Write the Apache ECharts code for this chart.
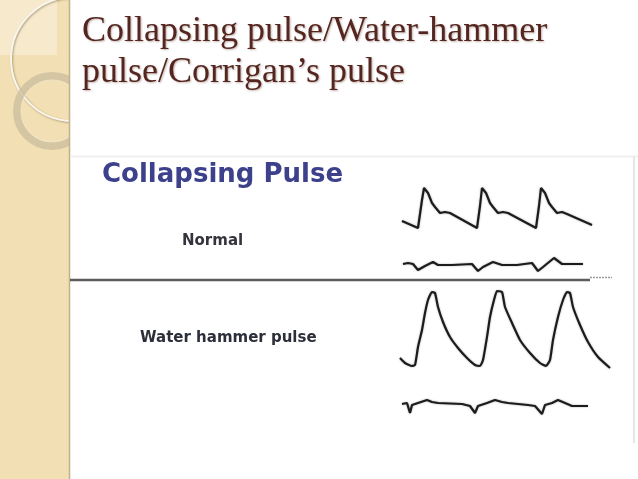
<!DOCTYPE html>
<html>
<head>
<meta charset="utf-8">
<script src="https://cdn.jsdelivr.net/npm/echarts@6/dist/echarts.min.js"></script>
<style>
html,body{margin:0;padding:0;background:#ffffff;}
#main{width:638px;height:479px;}
</style>
</head>
<body>
<div id="main"></div>
<script>
// ---- Text content ----
var titleLines = ['Collapsing pulse/Water-hammer', 'pulse/Corrigan\u2019s pulse'];
var panelHeading = 'Collapsing Pulse';
var labelNormal = 'Normal';
var labelWaterHammer = 'Water hammer pulse';

// ---- Waveform data: [time, amplitude] ----
// Collapsing pulse (top trace, normal arterial pulse with dicrotic notch)
var collapsingPulse = [
  [0,7],[16,0],[20,28],[22,40],[26,35],[30,25],[33,21],[38,15],[43,16],[48,15],[75,0],
  [78,22],[80,40],[84,35],[88,25],[91,21],[96,15],[101,16],[106,15],[134,0],
  [137,22],[139,40],[143,35],[147,25],[150,21],[155,15],[160,16],[165,14],[190,3]
];
// Normal ECG-like trace under top pulse
var normalTrace1 = [
  [1,1],[6,2],[11,1],[16,-5],[23,-1],[31,3],[36,0],[50,0],[70,1],[76,-6],[81,-2],
  [91,3],[100,0],[115,0],[130,2],[136,-6],[141,-2],[152,7],[160,1],[181,1]
];
// Water hammer pulse (bottom big trace)
var waterHammer = [
  [0,8],[5,3],[12,0],[15,1],[18,19],[22,36],[25,53],[28,66],[32,74],[35,73],[38,59],
  [43,44],[50,29],[58,18],[67,8],[75,1],[80,0],[83,6],[87,29],[90,49],[94,66],[97,75],
  [102,74],[105,59],[112,43],[120,26],[130,13],[140,3],[146,0],[150,6],[153,26],
  [158,49],[163,66],[167,74],[170,73],[173,59],[180,41],[188,24],[198,9],[210,-2]
];
// Normal ECG-like trace under water hammer pulse
var normalTrace2 = [
  [0,-1],[5,0],[8,-10],[10,-2],[16,0],[25,3],[30,1],[36,0],[60,-1],[68,-3],[73,-10],
  [76,-3],[85,0],[93,3],[100,1],[106,0],[126,-2],[133,-3],[140,-11],[143,-2],[150,0],
  [156,3],[163,0],[170,-3],[175,-3],[186,-3]
];

var chart = echarts.init(document.getElementById('main'), null, {renderer:'canvas'});

var traceStyle = {color:'#1c1c1c', width:2.2, shadowColor:'rgba(0,0,0,0.35)', shadowBlur:2};

function axisPair(idx, xmax, ymin, ymax){
  return {
    x:{type:'value', gridIndex:idx, min:0, max:xmax, show:false},
    y:{type:'value', gridIndex:idx, min:ymin, max:ymax, show:false}
  };
}
var a0 = axisPair(0,190,0,40), a1 = axisPair(1,190,-10,10), a2 = axisPair(2,210,0,74), a3 = axisPair(3,190,-10,10);

var option = {
  backgroundColor:'#ffffff',
  animation:false,
  graphic:[
    // left beige panel
    {type:'rect', shape:{x:0,y:0,width:70,height:479}, style:{fill:'#f2dfb3'}, z:0},
    {type:'rect', shape:{x:0,y:0,width:57,height:55}, style:{fill:'#f6e9cc'}, z:1},
    {type:'circle', shape:{cx:73,cy:59,r:62}, style:{fill:'none', stroke:'#faf6ee', lineWidth:2, shadowColor:'rgba(90,70,40,0.45)', shadowBlur:2, shadowOffsetX:1, shadowOffsetY:1}, z:2},
    {type:'circle', shape:{cx:52,cy:111,r:35}, style:{fill:'none', stroke:'rgba(200,186,156,0.7)', lineWidth:8}, z:2},
    {type:'circle', shape:{cx:52,cy:111,r:31}, style:{fill:'none', stroke:'rgba(245,236,212,0.6)', lineWidth:1.2}, z:2},
    // white content area covering circles beyond panel
    {type:'rect', shape:{x:70,y:0,width:568,height:479}, style:{fill:'#ffffff'}, z:3},
    {type:'line', shape:{x1:69.5,y1:0,x2:69.5,y2:479}, style:{stroke:'#c2b08a', lineWidth:1.5}, z:4},
    // pasted picture edges
    {type:'line', shape:{x1:70,y1:156.5,x2:638,y2:156.5}, style:{stroke:'#f0f0f0', lineWidth:2}, z:4},
    {type:'line', shape:{x1:634,y1:156,x2:634,y2:443}, style:{stroke:'#e6e6e6', lineWidth:2}, z:4},
    // divider line
    {type:'line', shape:{x1:70,y1:280,x2:590,y2:280}, style:{stroke:'#5c5c5c', lineWidth:2.5}, z:5},
    {type:'line', shape:{x1:590,y1:277.5,x2:612,y2:277.5}, style:{stroke:'#9a9a9a', lineWidth:1.5, lineDash:[2,1]}, z:5}
  ],
  title:[
    {text:titleLines.join('\n'), left:82, top:11, padding:0,
     textStyle:{fontFamily:'Liberation Serif', fontSize:36, fontWeight:'normal', lineHeight:41, color:'#55261f',
       textShadowColor:'rgba(80,40,30,0.35)', textShadowBlur:2, textShadowOffsetX:1, textShadowOffsetY:1}},
    {text:panelHeading, left:102, top:162, padding:0,
     textStyle:{fontFamily:'DejaVu Sans', fontSize:26, fontWeight:'bold', color:'#3d418c'}},
    {text:labelNormal, left:182, top:234, padding:0,
     textStyle:{fontFamily:'DejaVu Sans', fontSize:15, fontWeight:'bold', color:'#33343c'}},
    {text:labelWaterHammer, left:140, top:331, padding:0,
     textStyle:{fontFamily:'DejaVu Sans', fontSize:15, fontWeight:'bold', color:'#2c2e3a'}}
  ],
  grid:[
    {left:402, top:188, width:190, height:40},
    {left:402, top:255, width:190, height:20},
    {left:400, top:292, width:210, height:74},
    {left:402, top:393, width:190, height:20}
  ],
  xAxis:[a0.x,a1.x,a2.x,a3.x],
  yAxis:[a0.y,a1.y,a2.y,a3.y],
  series:[
    {type:'line', xAxisIndex:0, yAxisIndex:0, data:collapsingPulse, showSymbol:false, clip:false, lineStyle:traceStyle, z:6},
    {type:'line', xAxisIndex:1, yAxisIndex:1, data:normalTrace1, showSymbol:false, clip:false, lineStyle:traceStyle, z:6},
    {type:'line', xAxisIndex:2, yAxisIndex:2, data:waterHammer, showSymbol:false, clip:false, smooth:0.15, lineStyle:traceStyle, z:6},
    {type:'line', xAxisIndex:3, yAxisIndex:3, data:normalTrace2, showSymbol:false, clip:false, lineStyle:traceStyle, z:6}
  ]
};
chart.setOption(option);
</script>
</body>
</html>
